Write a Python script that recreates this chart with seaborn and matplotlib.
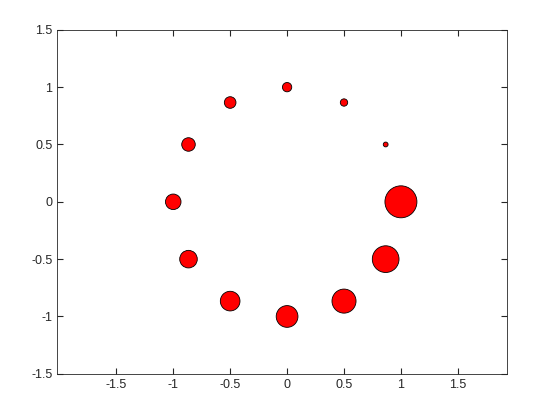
import numpy as np
import matplotlib
matplotlib.use("Agg")
import matplotlib.pyplot as plt
import seaborn as sns
import pandas as pd

x = [1.0, 0.866, 0.5, 0.0, -0.5, -0.866, -1.0, -0.866, -0.5, 0.0, 0.5, 0.866]
y = [0.0, 0.5, 0.866, 1.0, 0.866, 0.5, 0.0, -0.5, -0.866, -1.0, -0.866, -0.5]
sizes = [530, 12, 28, 45, 70, 95, 125, 160, 200, 245, 300, 370]

df = pd.DataFrame({"x": x, "y": y, "s": sizes})
sns.set_style("white")
plt.rcParams['font.family'] = ['Liberation Sans', 'DejaVu Sans']
fig = plt.figure(figsize=(5.6, 4.2), dpi=100)
ax = fig.add_axes([0.102, 0.11, 0.803, 0.819])
sns.scatterplot(data=df, x="x", y="y", size="s", sizes=(min(sizes), max(sizes)),
                size_norm=(min(sizes), max(sizes)), color="red", edgecolor="black",
                linewidth=0.6, alpha=1, legend=False, ax=ax)
ax.set_xlim(-2.02, 1.93)
ax.set_ylim(-1.5, 1.5)
ax.set_xticks([-1.5, -1, -0.5, 0, 0.5, 1, 1.5])
ax.set_xticklabels(["-1.5", "-1", "-0.5", "0", "0.5", "1", "1.5"])
ax.set_yticks([-1.5, -1, -0.5, 0, 0.5, 1, 1.5])
ax.set_yticklabels(["-1.5", "-1", "-0.5", "0", "0.5", "1", "1.5"])
ax.set_xlabel("")
ax.set_ylabel("")
for s in ax.spines.values():
    s.set_color("#262626")
    s.set_linewidth(0.6)
ax.tick_params(direction="in", length=4, labelsize=9, colors="#262626",
               top=True, right=True, bottom=True, left=True)
fig.savefig("out.png", dpi=100)
